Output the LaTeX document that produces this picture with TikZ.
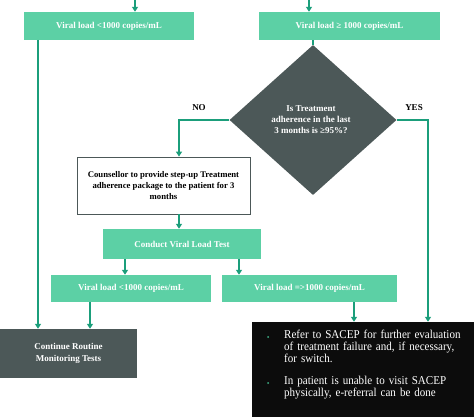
\documentclass[tikz,border=0pt]{standalone}
\usepackage{fontspec}
\setmainfont{Liberation Serif}
\newfontfamily\condfont[FakeStretch=0.92]{Liberation Serif}
\usetikzlibrary{arrows.meta,shapes.geometric,calc}
\definecolor{gfill}{HTML}{5CD0A5}
\definecolor{gline}{HTML}{1B9E7B}
\definecolor{dgray}{HTML}{4C5858}
\definecolor{blk}{HTML}{0C0C0C}
\definecolor{bul}{HTML}{3FB48A}
\begin{document}
\begin{tikzpicture}[x=1pt,y=-1pt,
  gbox/.style={rectangle,fill=gfill,draw=none,inner sep=0pt,text=white,
    font=\fontsize{9}{11}\selectfont\bfseries,align=center},
  conn/.style={draw=gline,line width=1.6pt},
  arr/.style={conn,-{Triangle[width=6pt,length=5pt]}},
  lbl/.style={font=\fontsize{9}{10}\selectfont\bfseries,inner sep=0pt},
  ptext/.style={anchor=north west,inner sep=0pt,text=white,text width=180pt,font=\condfont\fontsize{12}{12}\selectfont}]
\useasboundingbox (0,0) rectangle (474,417);
% boxes
\node[gbox,minimum width=170pt,minimum height=28pt] (vl1) at (109,26) {Viral load <1000 copies/mL};
\node[gbox,minimum width=181pt,minimum height=28pt] (vl2) at (349.5,26) {Viral load ≥ 1000 copies/mL};
\node[diamond,fill=dgray,draw=none,inner sep=0pt,minimum width=167pt,minimum height=150pt] (dm) at (313,120) {};
\node[text=white,font=\fontsize{9}{11}\selectfont\bfseries,align=center,inner sep=0pt] (dmt) at (311,120) {Is Treatment\\adherence in the last\\3 months is ≥95\%?};
\node[lbl] (no) at (199,108) {NO};
\node[lbl] (yes) at (414,108) {YES};
\node[rectangle,draw=dgray,line width=0.8pt,fill=white,minimum width=173pt,minimum height=57pt,inner sep=0pt,
  font=\fontsize{8.7}{11}\selectfont\bfseries,align=center] (cs) at (163.5,185.5)
  {Counsellor to provide step-up Treatment\\adherence package to the patient for 3\\months};
\node[gbox,minimum width=158pt,minimum height=30pt] (cv) at (182,244) {Conduct Viral Load Test};
\node[gbox,minimum width=160pt,minimum height=27pt] (vl3) at (131,288.5) {Viral load <1000 copies/mL};
\node[gbox,minimum width=175pt,minimum height=27pt] (vl4) at (309.5,288.5) {Viral load =>1000 copies/mL};
\node[rectangle,fill=dgray,minimum width=137pt,minimum height=49pt,inner sep=0pt,text=white,
  font=\fontsize{9}{12}\selectfont\bfseries,align=center] (gb) at (68.5,353.5) {Continue Routine\\Monitoring Tests};
\node[rectangle,fill=blk,minimum width=222pt,minimum height=95pt,inner sep=0pt] (bk) at (363,369.5) {};
\node[ptext] (p1) at (284,330)
  {Refer to SACEP for further evaluation\linebreak of treatment failure and, if necessary,\linebreak for switch.};
\node[ptext] (p2) at (284,376)
  {In patient is unable to visit SACEP\linebreak physically, e-referral can be done};
\node[circle,fill=bul,inner sep=0pt,minimum size=2pt] (b1) at (268,337) {};
\node[circle,fill=bul,inner sep=0pt,minimum size=2pt] (b2) at (268,383) {};
% connectors
\coordinate (t1) at (135,0);
\coordinate (t2) at (309,0);
\draw[arr] (t1) -- (t1 |- vl1.north);
\draw[arr] (t2) -- (t2 |- vl2.north);
\draw[conn] (vl2.south -| dm.north) -- (dm.north);
\coordinate (l1) at (38,40);
\draw[arr] (l1) -- (l1 |- gb.north);
\coordinate (nc) at (179,120);
\draw[arr] (dm.west) -- (nc) -- (nc |- cs.north);
\draw[arr] (nc |- cs.south) -- (nc |- cv.north);
\coordinate (c1) at (125,259);
\coordinate (c2) at (239,259);
\draw[arr] (c1 |- cv.south) -- (c1 |- vl3.north);
\draw[arr] (c2 |- cv.south) -- (c2 |- vl4.north);
\coordinate (c3) at (90,302);
\draw[arr] (c3 |- vl3.south) -- (c3 |- gb.north);
\coordinate (c4) at (354,302);
\draw[arr] (c4 |- vl4.south) -- (c4 |- bk.north);
\coordinate (yc) at (428,120);
\draw[arr] (dm.east) -- (yc) -- (yc |- bk.north);
\end{tikzpicture}
\end{document}
